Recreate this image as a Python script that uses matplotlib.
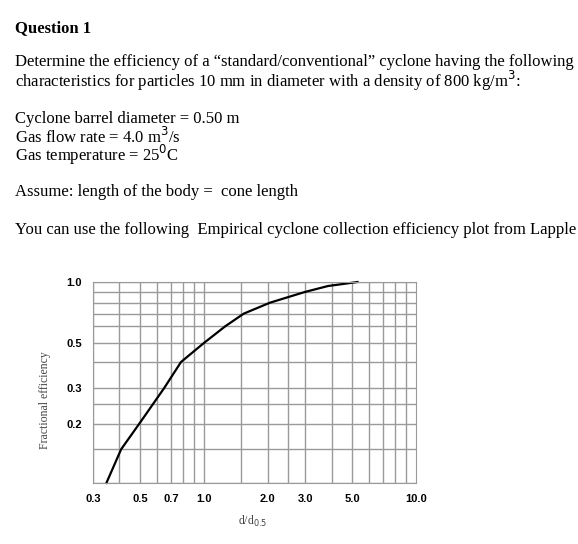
import matplotlib
matplotlib.use("Agg")
import matplotlib.pyplot as plt
import numpy as np

x_vals = [0.347, 0.407, 0.496, 0.65, 0.78, 1.0, 1.26, 1.54, 2.05, 2.99, 3.85, 5.3]
eff_vals = [0.1, 0.15, 0.2, 0.3, 0.4, 0.5, 0.6, 0.7, 0.8, 0.9, 0.96, 1.0]
x_ticks = [0.3, 0.5, 0.7, 1.0, 2.0, 3.0, 5.0, 10.0]
x_ticklabels = ["0.3", "0.5", "0.7", "1.0", "2.0", "3.0", "5.0", "10.0"]
x_grid = [0.3, 0.4, 0.5, 0.6, 0.7, 0.8, 0.9, 1.0, 1.5, 2.0, 2.5, 3.0, 4.0, 5.0, 6.0, 7.0, 8.0, 9.0]
y_ticks = [0.2, 0.3, 0.5, 1.0]
y_ticklabels = ["0.2", "0.3", "0.5", "1.0"]
y_grid = [0.1, 0.15, 0.2, 0.25, 0.3, 0.4, 0.5, 0.6, 0.7, 0.8, 0.9, 1.0]

# empirical nonlinear y-scale (value -> relative position)
sv = np.array([0.1, 0.15, 0.2, 0.25, 0.3, 0.4, 0.5, 0.6, 0.7, 0.8, 0.9, 1.0])
sp = -np.array([668, 567, 490, 432, 383, 305, 248, 198, 160, 127, 95, 65], float)

def fwd(v):
    v = np.asarray(v, float)
    out = np.interp(v, sv, sp)
    out = np.where(v < sv[0], sp[0] - (sv[0] - v) * 2000, out)
    out = np.where(v > sv[-1], sp[-1] + (v - sv[-1]) * 300, out)
    return out

def inv(p):
    p = np.asarray(p, float)
    out = np.interp(p, sp, sv)
    out = np.where(p < sp[0], sv[0] - (sp[0] - p) / 2000, out)
    out = np.where(p > sp[-1], sv[-1] + (p - sp[-1]) / 300, out)
    return out

fig = plt.figure(figsize=(5.78, 5.44), dpi=100)
serif = "Liberation Serif"
W, H = 578, 544
def t(x, y, s, **kw):
    fig.text(x / W, 1 - y / H, s, family=serif, fontsize=12, va="center", ha="left", **kw)

t(15, 28, "Question 1", weight="bold")
t(15, 62, "Determine the efficiency of a \u201cstandard/conventional\u201d cyclone having the following")
t(15, 81, "characteristics for particles 10 mm in diameter with a density of 800 kg/m$^3$:")
t(15, 119, "Cyclone barrel diameter = 0.50 m")
t(15, 137, "Gas flow rate = 4.0 m$^3$/s")
t(15, 155, "Gas temperature = 25$^0$C")
t(15, 192, "Assume: length of the body =  cone length")
t(15, 230, "You can use the following  Empirical cyclone collection efficiency plot from Lapple")

ax = fig.add_axes([93 / W, 1 - 483 / H, (416 - 93) / W, (483 - 282) / H])
ax.set_xscale("log")
ax.set_yscale("function", functions=(fwd, inv))
ax.set_xlim(0.3, 9.7)
ax.set_ylim(0.1, 1.0)
for g in x_grid:
    ax.axvline(g, color="#9a9a9a", lw=1.0)
for g in y_grid:
    ax.axhline(g, color="#9a9a9a", lw=1.0)
ax.plot(x_vals, eff_vals, color="black", lw=1.6, clip_on=False)
ax.set_xticks(x_ticks)
ax.set_xticklabels(x_ticklabels, fontsize=8, weight="bold", family="Liberation Sans")
ax.set_xticks([], minor=True)
ax.set_yticks(y_ticks)
ax.set_yticklabels(y_ticklabels, fontsize=8, weight="bold", family="Liberation Sans")
ax.set_yticks([], minor=True)
ax.tick_params(length=0, pad=8)
for s in ax.spines.values():
    s.set_color("#9a9a9a")
fig.text(45 / W, 1 - 400 / H, "Fractional efficiency", rotation=90, family=serif,
         fontsize=8.5, color="#444444", ha="center", va="center")
fig.text(253 / W, 1 - 521 / H, "d/d$_{0.5}$", family=serif, fontsize=8.5,
         color="#444444", ha="center", va="center")
fig.savefig("out.png", dpi=100)
